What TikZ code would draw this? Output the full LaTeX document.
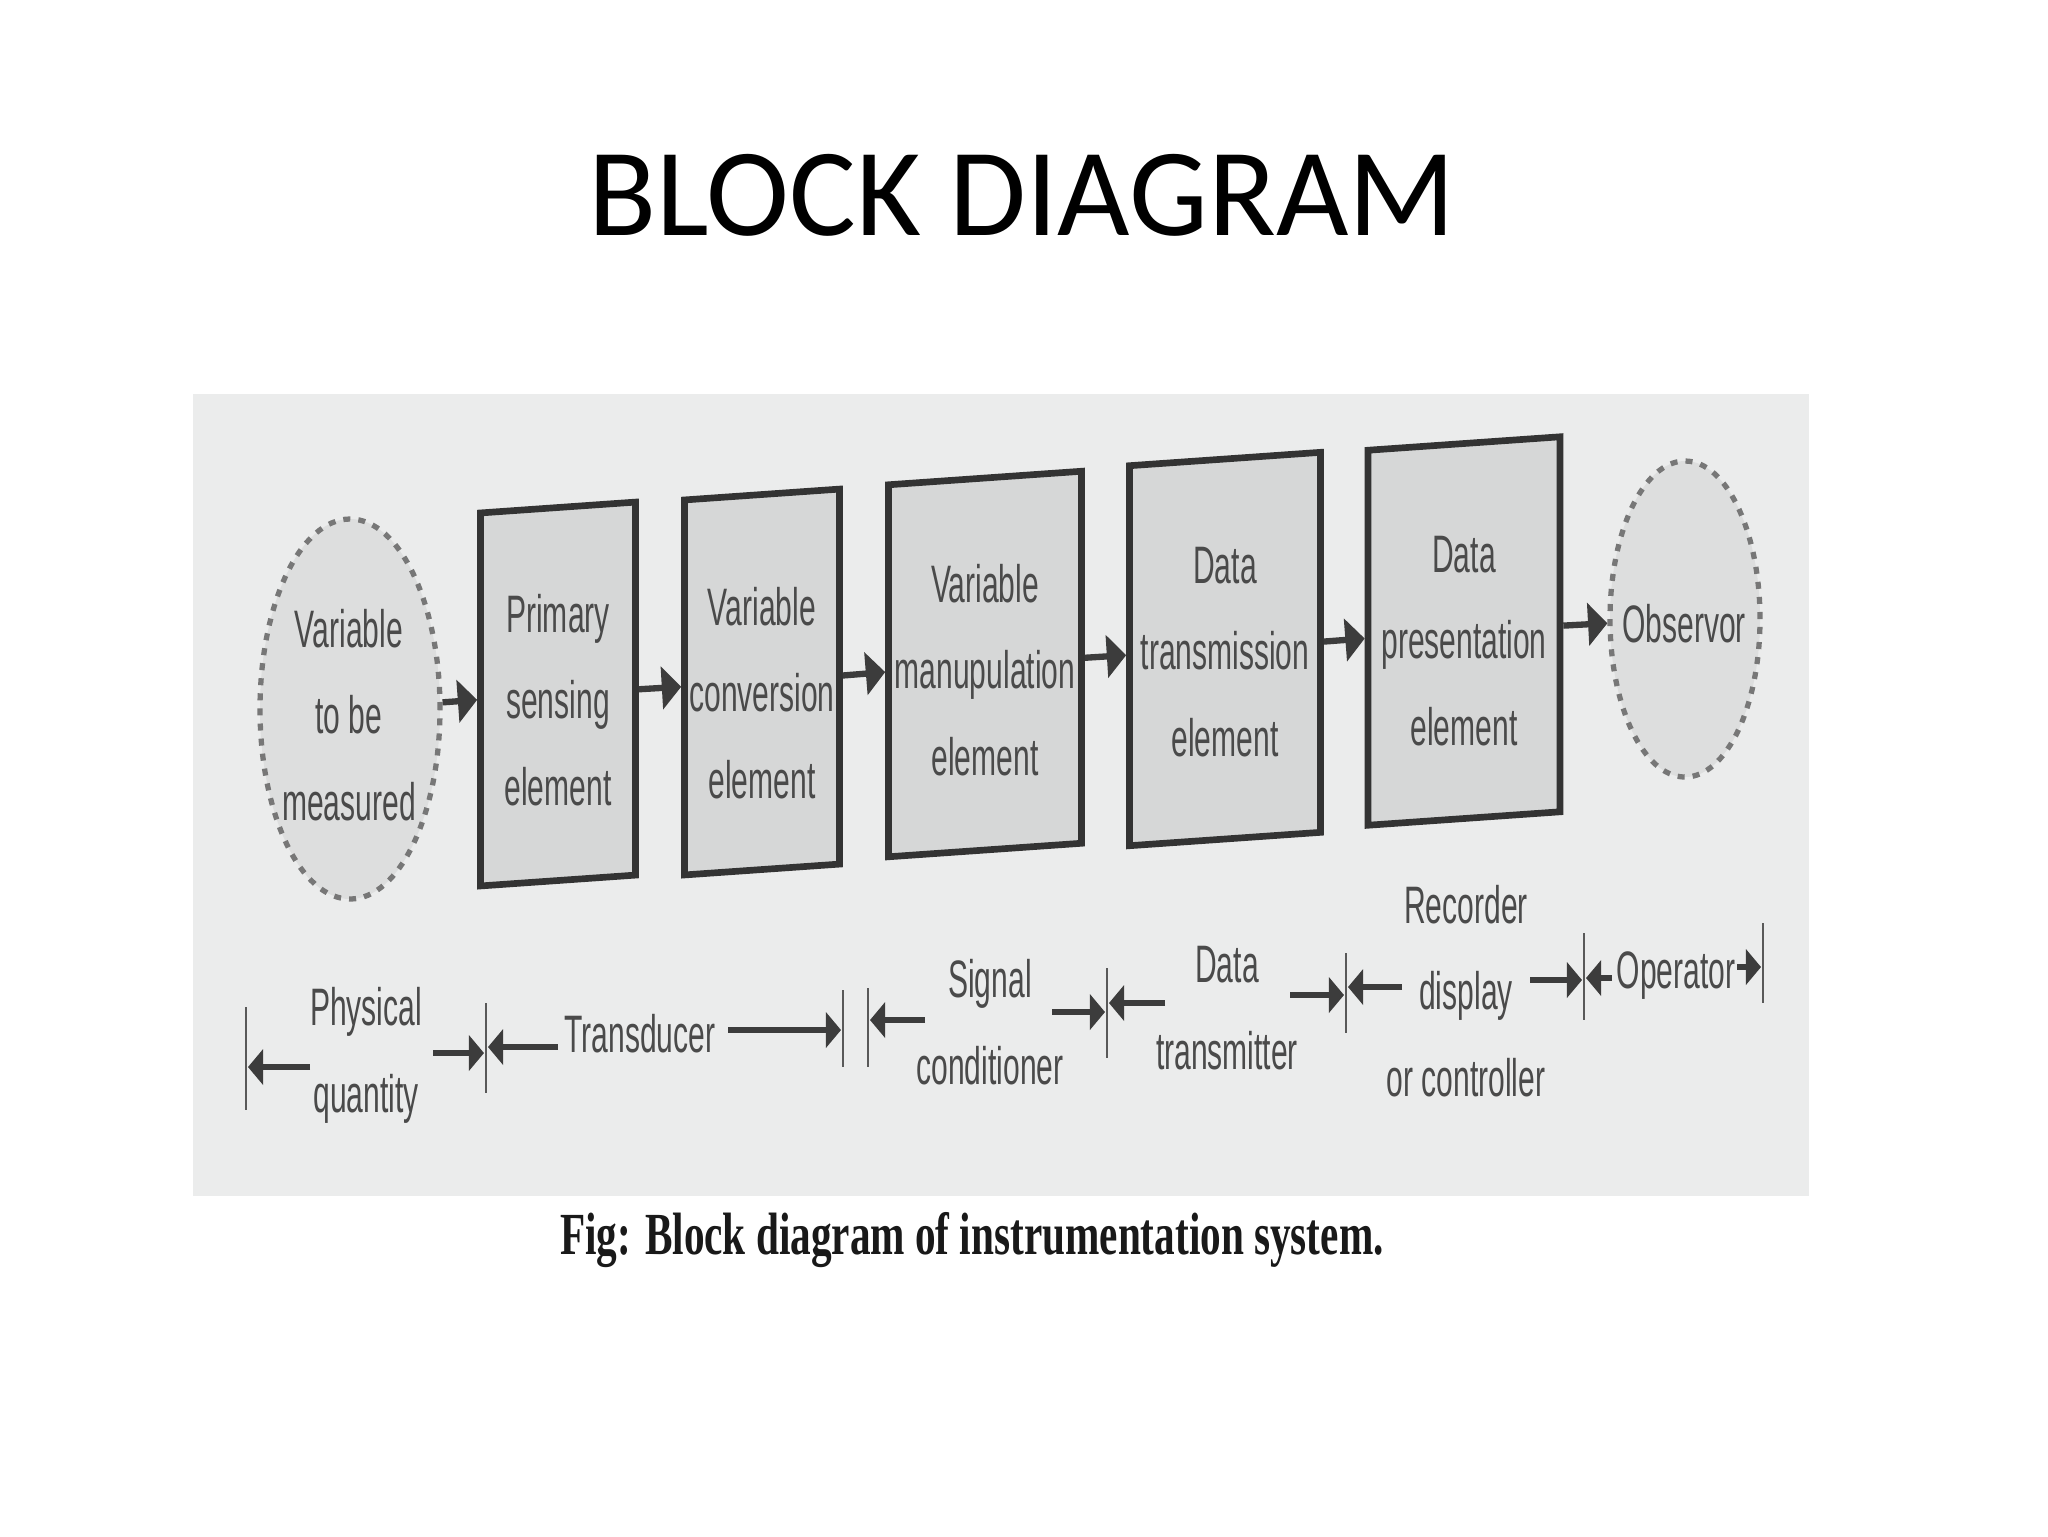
\documentclass[tikz,border=0pt]{standalone}
\usepackage{fontspec}
\setmainfont{Liberation Sans}
\newfontfamily\titlefont{Carlito}
\newfontfamily\capfont{Liberation Serif}
\usetikzlibrary{shapes.geometric,arrows.meta}
\newdimen\upx \upx=0.1mm
\definecolor{scanbg}{HTML}{EBECEC}
\definecolor{boxfill}{HTML}{D6D7D7}
\definecolor{ellfill}{HTML}{DDDEDE}
\definecolor{ink}{HTML}{4A4A4A}
\definecolor{edge}{HTML}{333333}
\definecolor{arrowc}{HTML}{3C3C3C}
\definecolor{dashc}{HTML}{777777}
\tikzset{
  blockbox/.style={rectangle, draw=edge, line width=1.9pt, fill=boxfill, inner sep=0pt, yslant=0.07},
  ellnode/.style={ellipse, draw=dashc, line width=1.5pt, dash pattern=on 2pt off 2.3pt, fill=ellfill, inner sep=0pt},
  lbl/.style={text=ink, font=\fontsize{15pt}{24.7pt}\selectfont, align=center, xscale=0.57, inner sep=0pt},
  mainarr/.style={draw=arrowc, line width=1.8pt, -{Triangle[length=5.5pt,width=12pt]}},
  dimarr/.style={draw=arrowc, line width=1.5pt, -{Triangle[length=4.3pt,width=10pt]}},
  dimbar/.style={rectangle, fill=arrowc!85, inner sep=0pt, minimum width=2.6\upx},
}
\begin{document}
\begin{tikzpicture}[x=0.1mm, y=-0.1mm]
  \fill[white] (0,0) rectangle (2048,1536);
  \useasboundingbox (0,0) rectangle (2048,1536);
  % scanned area
  \fill[scanbg] (193,394) rectangle (1809,1196);

  % title
  \node[font=\titlefont\fontsize{35.6pt}{40pt}\selectfont, anchor=base, inner sep=0pt] (title) at (1022,235) {BLOCK DIAGRAM};

  % main chain
  \node[ellnode, minimum width=180\upx, minimum height=380\upx] (e1) at (350,709) {};
  \node[blockbox, minimum width=155\upx, minimum height=373\upx] (b1) at (558,694) {};
  \node[blockbox, minimum width=155\upx, minimum height=375\upx] (b2) at (762,682) {};
  \node[blockbox, minimum width=193\upx, minimum height=372\upx] (b3) at (985,664) {};
  \node[blockbox, minimum width=191\upx, minimum height=380\upx] (b4) at (1225,649) {};
  \node[blockbox, minimum width=192\upx, minimum height=375\upx] (b5) at (1464,631) {};
  \node[ellnode, minimum width=150\upx, minimum height=316\upx] (obs) at (1685,619) {};

  \node[lbl] (te1) at (349,715) {Variable\\to be\\measured};
  \node[lbl] (t1) at (558,700) {Primary\\sensing\\element};
  \node[lbl] (t2) at (762,693) {Variable\\conversion\\element};
  \node[lbl] (t3) at (985,670) {Variable\\manupulation\\element};
  \node[lbl] (t4) at (1225,652) {Data\\transmission\\element};
  \node[lbl] (t5) at (1464,641) {Data\\presentation\\element};
  \node[lbl] (tobs) at (1684,624) {Observor};

  \draw[mainarr] (e1) -- (b1);
  \draw[mainarr] (b1) -- (b2);
  \draw[mainarr] (b2) -- (b3);
  \draw[mainarr] (b3) -- (b4);
  \draw[mainarr] (b4) -- (b5);
  \draw[mainarr] (b5) -- (obs);

  % bottom row: bars
  \node[dimbar, minimum height=103\upx] (bA) at (246,1058) {};
  \node[dimbar, minimum height=90\upx]  (bB) at (486,1048) {};
  \node[dimbar, minimum height=77\upx]  (bC) at (843,1028) {};
  \node[dimbar, minimum height=79\upx]  (bD) at (868,1027) {};
  \node[dimbar, minimum height=90\upx]  (bE) at (1107,1013) {};
  \node[dimbar, minimum height=80\upx]  (bF) at (1346,993) {};
  \node[dimbar, minimum height=87\upx]  (bG) at (1584,976) {};
  \node[dimbar, minimum height=80\upx]  (bH) at (1763,963) {};

  % bottom row: labels
  \node[lbl] (pq) at (366,1055) {Physical\\quantity};
  \node[lbl] (tr) at (640,1034) {Transducer};
  \node[lbl] (sc) at (990,1022) {Signal\\conditioner};
  \node[lbl] (dt) at (1227,1008) {Data\\transmitter};
  \node[lbl] (rd) at (1466,991) {Recorder\\display\\or controller};
  \node[lbl] (op) at (1676,976) {Operator};

  % bottom row: arrow tails
  \coordinate (a1) at (310,1067);
  \coordinate (a2) at (433,1053);
  \coordinate (a3) at (558,1047);
  \coordinate (a4) at (728,1030);
  \coordinate (a5) at (925,1020);
  \coordinate (a6) at (1052,1012);
  \coordinate (a7) at (1165,1003);
  \coordinate (a8) at (1290,995);
  \coordinate (a9) at (1402,987);
  \coordinate (a10) at (1530,980);
  \coordinate (a11) at (1612,978);
  \coordinate (a12) at (1737,967);

  \draw[dimarr] (a1) -- (a1 -| bA.east);
  \draw[dimarr] (a2) -- (a2 -| bB.west);
  \draw[dimarr] (a3) -- (a3 -| bB.east);
  \draw[dimarr] (a4) -- (a4 -| bC.west);
  \draw[dimarr] (a5) -- (a5 -| bD.east);
  \draw[dimarr] (a6) -- (a6 -| bE.west);
  \draw[dimarr] (a7) -- (a7 -| bE.east);
  \draw[dimarr] (a8) -- (a8 -| bF.west);
  \draw[dimarr] (a9) -- (a9 -| bF.east);
  \draw[dimarr] (a10) -- (a10 -| bG.west);
  \draw[dimarr] (a11) -- (a11 -| bG.east);
  \draw[dimarr] (a12) -- (a12 -| bH.west);

  % caption
  \node[font=\capfont\bfseries\fontsize{17pt}{20pt}\selectfont, anchor=base, xscale=0.69, inner sep=0pt, text=black!90] (cap) at (972,1254) {Fig: Block diagram of instrumentation system.};
\end{tikzpicture}
\end{document}
